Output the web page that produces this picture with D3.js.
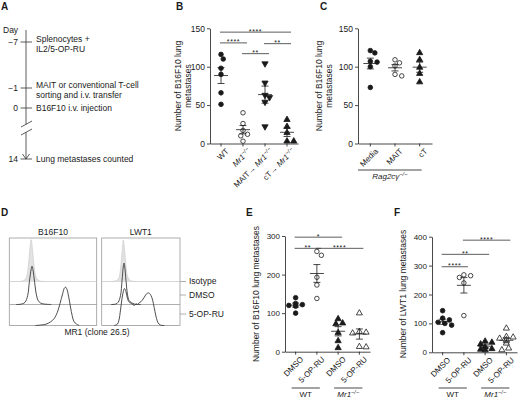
<!DOCTYPE html>
<html>
<head>
<meta charset="utf-8">
<script src="https://cdn.jsdelivr.net/npm/d3@7"></script>
<style>
body { margin: 0; background: #fff; }
svg { display: block; font-family: "Liberation Sans", Arial, Helvetica, sans-serif; }
</style>
</head>
<body>
<svg width="520" height="401"></svg>
<script>
// ---- data ----
// A: protocol timeline
const timelineDays = [-7, -1, 0, 14];
const timelineLabels = [
    ['Splenocytes +', 'IL2/5-OP-RU'],
    ['MAIT or conventional T-cell', 'sorting and i.v. transfer'],
    ['B16F10 i.v. injection'],
    ['Lung metastases counted']
];

// B: B16F10 metastases after transfer
const groupsB = ['WT', 'Mr1', 'MAIT', 'cT'];
const wtB = [116, 110, 98, 90, 66, 51];
const mr1B = [40, 26, 17, 12, 10, 3];
const maitB = [104, 79, 63, 60, 54, 22];
const ctB = [31, 22, 14, 3, 3];
const sigB = [['WT', 'cT', 145, '****'], ['WT', 'Mr1', 131, '****'],
              ['MAIT', 'cT', 130, '**'], ['Mr1', 'MAIT', 117, '**']];

// C: Rag2cγ-/- recipients
const groupsC = ['Media', 'MAIT', 'cT'];
const mediaC = [118, 121, 106, 107, 100, 73];
const maitC = [105, 101, 109, 88, 90];
const ctC = [118, 109, 99, 91, 80];

// D: MR1 histograms, [MR1 intensity, % of max]
const b16Isotype = [[10,0],[15,1],[18,4],[20,12],[22,40],[23.5,72],[25,95],[26.5,72],[28,40],[30,14],[32,5],[35,1],[40,0]];
const b16Dmso = [[8,0],[14,1],[18,5],[21,20],[23,52],[25,80],[26,87],[27,80],[29,50],[31,22],[33,9],[36,3],[40,1],[48,0]];
const b16Opru = [[30,0],[36,1],[42,3],[47,8],[51,15],[55,30],[58,50],[61,72],[63,85],[64.5,87],[66,82],[68,65],[70,42],[72,22],[74,9],[77,3],[80,0]];
const lwtIsotype = [[12,0],[17,1],[21,5],[23,15],[25,45],[26.5,75],[27.6,94],[29,75],[30.5,45],[32.5,15],[35,5],[38,1],[44,0]];
const lwtDmso = [[12,0],[18,1],[21,5],[24,20],[26,55],[27.5,85],[28.5,94],[29.5,85],[31,55],[33,22],[35,9],[38,4],[42,1],[50,0]];
const lwtOpru = [[16,0],[20,3],[22,12],[24,35],[26,62],[28,80],[29,84],[30.5,80],[32,68],[34,56],[36,52],[38,50],[40,47],[42,46],[44,49],[46,48],[48,52],[50,54],[52,58],[54,63],[56,69],[58,73],[60,74],[62,71],[64,64],[66,50],[68,32],[70,16],[72,6],[75,1],[80,0]];
const histRows = ['Isotype', 'DMSO', '5-OP-RU'];

// E: B16F10 metastases, DMSO / 5-OP-RU
const groupsE = ['wtDmso', 'wtOpru', 'mrDmso', 'mrOpru'];
const wtDmsoE = [140, 125, 120, 118, 122, 100];
const wtOpruE = [250, 260, 193, 173, 138];
const mrDmsoE = [85, 72, 74, 49, 28, 10];
const mrOpruE = [100, 52, 48, 50, 13, 12];
const sigE = [['wtDmso', 'mrDmso', 297, '*'], ['wtDmso', 'wtOpru', 268, '**'], ['wtOpru', 'mrOpru', 268, '****']];

// F: LWT1 metastases
const wtDmsoF = [144, 118, 112, 104, 100, 94, 68];
const wtOpruF = [265, 259, 268, 240, 127];
const mrDmsoF = [38, 34, 28, 18, 12, 8, 10];
const mrOpruF = [83, 52, 54, 43, 31, 8, 14, 48];
const sigF = [['wtOpru', 'mrOpru', 388, '****'], ['wtDmso', 'mrDmso', 339, '**'], ['wtDmso', 'wtOpru', 296, '****']];

// ---- drawing ----
const svg = d3.select('svg');
const ink = '#1a1a1a';
const fs = 8.5;

const sym = {
    dot:    { type: d3.symbolCircle, size: 17, fill: ink, rot: 0 },
    ring:   { type: d3.symbolCircle, size: 16, fill: '#fff', rot: 0 },
    up:     { type: d3.symbolTriangle, size: 17, fill: ink, rot: 0 },
    down:   { type: d3.symbolTriangle, size: 17, fill: ink, rot: 180 },
    upOpen: { type: d3.symbolTriangle, size: 16, fill: '#fff', rot: 0 }
};

const panelLetter = (t, x, y) => svg.append('text')
    .attr('x', x).attr('y', y).attr('font-size', 10).attr('font-weight', 'bold')
    .attr('fill', ink).text(t);

// simple beeswarm so points of similar value sit side by side
const swarm = (vals, y, r) => {
    const placed = [];
    const off = vals.map(() => 0);
    d3.range(vals.length).sort((a, b) => vals[b] - vals[a]).forEach(i => {
        const py = y(vals[i]);
        for (const k of [0, 1, -1, 2, -2, 3, -3, 4, -4]) {
            const dx = k * r * 0.9;
            if (placed.every(p => Math.hypot(p[0] - dx, p[1] - py) >= 2 * r)) {
                off[i] = dx; placed.push([dx, py]); break;
            }
        }
    });
    return off;
};

// text pieces: [text, italic?, superscript?]
const mr1 = [['Mr1', true], ['\u2212/\u2212', true, true]];
const labelsB = [[['WT']], mr1, [['MAIT\u2192 ']].concat(mr1), [['cT\u2192 ']].concat(mr1)];
const labelsC = [[['Media']], [['MAIT']], [['cT']]];
const labelsEF = [[['DMSO']], [['5-OP-RU']], [['DMSO']], [['5-OP-RU']]];

const putParts = (text, parts, size) => {
    parts.forEach(p => {
        const ts = text.append('tspan').text(p[0]);
        if (p[1]) ts.attr('font-style', 'italic');
        if (p[2]) ts.attr('font-size', size * 0.7).attr('dy', -size * 0.4);
    });
};

const axisStyle = g => {
    g.selectAll('path, line').attr('stroke', ink).attr('stroke-width', 0.8);
    g.selectAll('text').attr('fill', ink);
};

const dotPanel = cfg => {
    const { x, y, groups, series, marks, ticks, sig, yFont, labels } = cfg;
    const g = svg.append('g');
    const y0 = y.range()[0];
    const xLeft = x.range()[0];

    g.append('g').attr('transform', `translate(${xLeft},0)`)
        .call(d3.axisLeft(y).tickValues(ticks).tickSize(3).tickPadding(2).tickSizeOuter(0))
        .call(axisStyle)
        .call(a => a.selectAll('text').attr('font-size', yFont).attr('font-family', null));

    g.append('g').attr('transform', `translate(0,${y0})`)
        .call(d3.axisBottom(x).tickSize(3).tickSizeOuter(0).tickFormat(''))
        .call(axisStyle);

    const cx = k => x(k) + x.bandwidth() / 2;

    groups.forEach((key, gi) => {
        const vals = series[gi];
        const s = sym[marks[gi]];
        const off = swarm(vals, y, 2.5);
        g.append('g').selectAll('path').data(vals).join('path')
            .attr('d', d3.symbol().type(s.type).size(s.size))
            .attr('transform', (d, i) => `translate(${cx(key) + off[i]},${y(d)}) rotate(${s.rot})`)
            .attr('fill', s.fill).attr('stroke', ink).attr('stroke-width', 0.8);

        const m = d3.mean(vals);
        const sem = d3.deviation(vals) / Math.sqrt(vals.length);
        const c = cx(key);
        const eb = g.append('g').attr('stroke', ink).attr('stroke-width', 0.8);
        eb.append('line').attr('x1', c - 7).attr('x2', c + 7).attr('y1', y(m)).attr('y2', y(m));
        eb.append('line').attr('x1', c).attr('x2', c).attr('y1', y(m - sem)).attr('y2', y(m + sem));
        [m - sem, m + sem].forEach(v => eb.append('line')
            .attr('x1', c - 3.5).attr('x2', c + 3.5).attr('y1', y(v)).attr('y2', y(v)));

        const lab = g.append('text')
            .attr('transform', `translate(${c + 4},${y0 + 4}) rotate(-45)`)
            .attr('text-anchor', 'end').attr('dy', '0.75em')
            .attr('font-size', 8).attr('fill', ink);
        putParts(lab, labels[gi], 8);
    });

    (sig || []).forEach(([a, b, v, stars]) => {
        const x1 = cx(a) - 1, x2 = cx(b) + 4;
        g.append('line').attr('x1', x1).attr('x2', x2).attr('y1', y(v)).attr('y2', y(v))
            .attr('stroke', '#333').attr('stroke-width', 0.8);
        g.append('text').attr('x', (x1 + x2) / 2).attr('y', y(v) + 1.5)
            .attr('text-anchor', 'middle').attr('font-size', 7).attr('letter-spacing', 0.6)
            .attr('fill', ink).text(stars);
    });
    return { g, cx };
};

const yLabel = (lines, xs, cy, size) => lines.forEach((t, i) => svg.append('text')
    .attr('transform', `translate(${xs[i]},${cy}) rotate(-90)`)
    .attr('text-anchor', 'middle').attr('dy', '0.35em')
    .attr('font-size', size).attr('fill', ink).text(t));

const groupLabel = (parts, xa, xb, yLine) => {
    svg.append('line').attr('x1', xa).attr('x2', xb).attr('y1', yLine).attr('y2', yLine)
        .attr('stroke', ink).attr('stroke-width', 0.8);
    const t = svg.append('text').attr('x', (xa + xb) / 2).attr('y', yLine + 9)
        .attr('text-anchor', 'middle').attr('font-size', 8).attr('fill', ink);
    putParts(t, parts, 8);
};

// ---- A ----
panelLetter('A', 1, 10);
const tY = d3.scaleLinear().domain(timelineDays).range([42, 88, 108, 159]);
const ga = svg.append('g').attr('stroke', '#333').attr('stroke-width', 0.8).attr('fill', 'none');
ga.append('line').attr('x1', 26).attr('x2', 26).attr('y1', 30).attr('y2', 124.3);
ga.append('line').attr('x1', 26).attr('x2', 26).attr('y1', 132.3).attr('y2', tY(14));
ga.append('line').attr('x1', 21).attr('y1', 127).attr('x2', 32).attr('y2', 121);
ga.append('line').attr('x1', 21).attr('y1', 135).attr('x2', 32).attr('y2', 129);
ga.append('polyline').attr('points', `22.5,${tY(14) - 5} 26,${tY(14)} 29.5,${tY(14) - 5}`);
svg.append('text').attr('x', 3).attr('y', 33).attr('font-size', fs).attr('fill', ink).text('Day');
timelineDays.forEach((d, i) => {
    ga.append('line').attr('x1', 20.5).attr('x2', 32).attr('y1', tY(d)).attr('y2', tY(d));
    svg.append('text').attr('x', 18).attr('y', tY(d)).attr('dy', '0.35em')
        .attr('text-anchor', 'end').attr('font-size', fs).attr('fill', ink)
        .text(d < 0 ? '\u2212' + Math.abs(d) : d);
    const lines = timelineLabels[i];
    lines.forEach((t, j) => svg.append('text')
        .attr('x', 36).attr('y', tY(d) + (lines.length > 1 ? -3 + j * 10.5 : 0)).attr('dy', '0.35em')
        .attr('font-size', fs).attr('fill', ink).text(t));
});

// ---- B ----
panelLetter('B', 176, 10);
const xB = d3.scaleBand().domain(groupsB).range([210, 298]);
const yB = d3.scaleLinear().domain([0, 150]).range([143.5, 28.3]);
dotPanel({ x: xB, y: yB, groups: groupsB, series: [wtB, mr1B, maitB, ctB], labels: labelsB,
    marks: ['dot', 'ring', 'down', 'up'], ticks: [0, 50, 100, 150], sig: sigB, yFont: 8.5 });
yLabel(['Number of B16F10 lung', 'metastases'], [178, 188], 86, fs);

// ---- C ----
panelLetter('C', 320, 10);
const xC = d3.scaleBand().domain(groupsC).range([358, 432]);
const yC = d3.scaleLinear().domain([0, 150]).range([143.5, 28.3]);
const pc = dotPanel({ x: xC, y: yC, groups: groupsC, series: [mediaC, maitC, ctC], labels: labelsC,
    marks: ['dot', 'ring', 'up'], ticks: [0, 50, 100, 150], yFont: 8.5 });
yLabel(['Number of B16F10 lung', 'metastases'], [319, 329], 86, fs);
groupLabel([['Rag2c\u03b3', true], ['\u2212/\u2212', true, true]], 358, pc.cx('cT') + 2, 170);

// ---- D ----
panelLetter('D', 1, 216);
const boxTop = 238, boxBottom = 325.5;
const rowBase = [281.5, 304.5, 325.5];
const hY = d3.scaleLinear().domain([0, 100]).range([0, 44]);
const histPanel = (title, xa, xb, curves) => {
    const hx = d3.scaleLinear().domain([0, 100]).range([xa, xb]);
    const g = svg.append('g');
    g.append('rect').attr('x', xa).attr('y', boxTop).attr('width', xb - xa).attr('height', boxBottom - boxTop)
        .attr('fill', 'none').attr('stroke', '#999').attr('stroke-width', 0.8);
    g.append('line').attr('x1', xa).attr('x2', xb).attr('y1', rowBase[0]).attr('y2', rowBase[0])
        .attr('stroke', '#ccc').attr('stroke-width', 0.8);
    g.append('line').attr('x1', xa).attr('x2', xb).attr('y1', rowBase[1]).attr('y2', rowBase[1])
        .attr('stroke', '#999').attr('stroke-width', 0.8);
    curves.forEach((pts, i) => {
        const line = d3.line().curve(d3.curveCatmullRom.alpha(0.5))
            .x(d => hx(d[0])).y(d => rowBase[i] - hY(d[1]));
        const p = g.append('path').attr('d', line(pts));
        if (i === 0) p.attr('fill', '#e2e2e2').attr('stroke', '#cfcfcf').attr('stroke-width', 0.8);
        else p.attr('fill', 'none').attr('stroke', '#3a3a3a').attr('stroke-width', 0.9);
    });
    svg.append('text').attr('x', (xa + xb) / 2).attr('y', 235).attr('text-anchor', 'middle')
        .attr('font-size', fs).attr('fill', ink).text(title);
};
histPanel('B16F10', 9.3, 96.7, [b16Isotype, b16Dmso, b16Opru]);
histPanel('LWT1', 101.7, 180, [lwtIsotype, lwtDmso, lwtOpru]);
[281.5, 295, 314].forEach((yy, i) => {
    svg.append('line').attr('x1', 180).attr('x2', 186).attr('y1', yy).attr('y2', yy)
        .attr('stroke', '#999').attr('stroke-width', 0.8);
    svg.append('text').attr('x', 189).attr('y', yy).attr('dy', '0.35em')
        .attr('font-size', fs).attr('fill', ink).text(histRows[i]);
});
svg.append('text').attr('x', 97).attr('y', 335).attr('text-anchor', 'middle')
    .attr('font-size', fs).attr('fill', ink).text('MR1 (clone 26.5)');

// ---- E ----
panelLetter('E', 246, 216);
const xE = d3.scaleBand().domain(groupsE).range([285, 370]);
const yE = d3.scaleLinear().domain([0, 300]).range([351.7, 236]);
const pe = dotPanel({ x: xE, y: yE, groups: groupsE, series: [wtDmsoE, wtOpruE, mrDmsoE, mrOpruE], labels: labelsEF,
    marks: ['dot', 'ring', 'up', 'upOpen'], ticks: [0, 100, 200, 300], sig: sigE, yFont: 8 });
yLabel(['Number of B16F10 lung metastases'], [256], 294, fs);
groupLabel([['WT']], pe.cx('wtDmso') - 4, pe.cx('wtOpru') + 3, 388);
groupLabel(mr1, pe.cx('mrDmso') - 4, pe.cx('mrOpru') + 3, 388);

// ---- F ----
panelLetter('F', 394, 216);
const xF = d3.scaleBand().domain(groupsE).range([432, 517]);
const yF = d3.scaleLinear().domain([0, 400]).range([352.3, 236.7]);
const pf = dotPanel({ x: xF, y: yF, groups: groupsE, series: [wtDmsoF, wtOpruF, mrDmsoF, mrOpruF], labels: labelsEF,
    marks: ['dot', 'ring', 'up', 'upOpen'], ticks: [0, 100, 200, 300, 400], sig: sigF, yFont: 8 });
yLabel(['Number of LWT1 lung metastases'], [403.5], 294, fs);
groupLabel([['WT']], pf.cx('wtDmso') - 4, pf.cx('wtOpru') + 3, 388);
groupLabel(mr1, pf.cx('mrDmso') - 4, pf.cx('mrOpru') + 3, 388);
</script>
</body>
</html>
